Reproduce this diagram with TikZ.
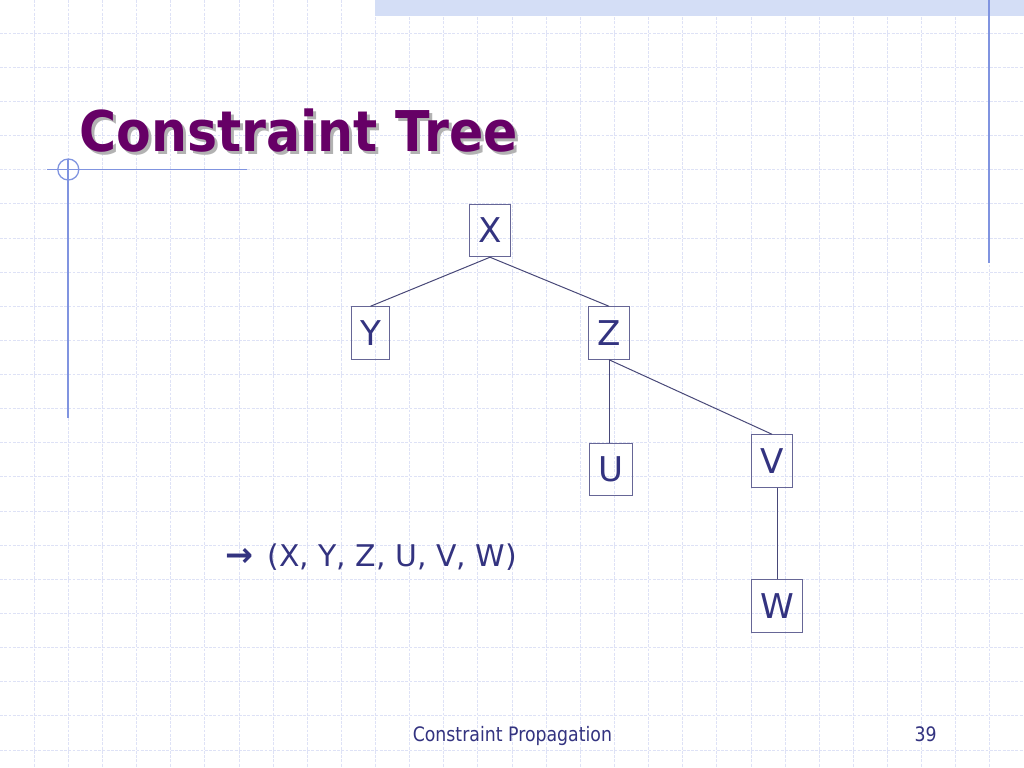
\documentclass[tikz,border=0pt]{standalone}
\usepackage{fontspec}
\setmainfont{DejaVu Sans}
\newfontfamily\titlefont{DejaVu Sans}[FakeStretch=0.9]
\newfontfamily\footerfont{DejaVu Sans}[FakeStretch=0.87]
\usepackage{tikz}
\usetikzlibrary{positioning}
\definecolor{slidetext}{RGB}{51,51,128}
\definecolor{titlepurple}{RGB}{102,0,102}
\definecolor{titleshadow}{RGB}{178,178,178}
\definecolor{gridblue}{RGB}{222,226,246}
\definecolor{rulerblue}{RGB}{128,148,224}
\definecolor{bandblue}{RGB}{212,222,246}
\definecolor{boxline}{RGB}{102,102,150}
\definecolor{edgeline}{RGB}{72,72,120}
\tikzset{gridline/.style={gridblue,line width=0.6pt,dash pattern=on 2pt off 1pt},
  ruler/.style={rulerblue,line width=0.9pt}}
\begin{document}
\begin{tikzpicture}[x=0.703125pt,y=-0.703125pt]%
            \useasboundingbox[fill=white] (0,0) rectangle (1024,768);
            %% background grid
            \foreach \k in {1,...,29} \draw[gridline] ({\k*34.133},0) -- ({\k*34.133},768);
            \foreach \k in {1,...,22} \draw[gridline] (0,{\k*34.133-1}) -- (1024,{\k*34.133-1});
            \fill[bandblue] (375,0) rectangle (1024,16);
            \draw[ruler,line width=1.3pt] (989,0) -- (989,263);
            \draw[ruler] (47,169.3) -- (247,169.3);
            \draw[ruler,line width=1.3pt] (67.7,159) -- (67.7,418);
            \draw[ruler] (68.3,169.5) circle (10.5);
            %% title
            \node[anchor=base west,inner sep=0,text=titleshadow,font=\titlefont\bfseries\fontsize{39.5}{47}\selectfont] (titleshadow) at (82,155) {Constraint Tree};
            \node[anchor=base west,inner sep=0,text=titlepurple,font=\titlefont\bfseries\fontsize{39.5}{47}\selectfont] (title) at (79,152) {Constraint Tree};
            %% tree
            \begin{scope}[inner xsep=6.3pt,inner ysep=0pt,minimum height=36.8pt,text=slidetext,font=\fontsize{24}{28}\selectfont]%
            \tikzstyle{every node}=[draw=boxline,line width=0.8pt] %%
            \node (x) at (490,230.5)  {X}; %%
            \node (y) at (370.5,333)  {Y}; %%
            \node (z) at (609,333)  {Z}; %%
            \node (u) at (610.7,469.5)  {U}; %%
            \node (v) at (772,461)  {V}; %%
            \node (w) at (777,606)  {W}; %%
            \end{scope}
            \begin{scope}[edgeline,line width=0.7pt]
            \draw (x.south)--(y.north); %%
            \draw (x.south)--(z.north); %%
            \draw (z.south)--(z.south |- u.north); %%
            \draw (z.south)--(v.north); %%
            \draw (w.north |- v.south)--(w.north); %%
            \end{scope}
            %% order and footer
            \node[anchor=base west,inner sep=0,text=slidetext,font=\fontsize{21}{25}\selectfont] (order) at (225,566.5) {{\bfseries\fontsize{23.5}{25}\selectfont →}\hspace{10pt}(X, Y, Z, U, V, W)};
            \node[anchor=base west,inner sep=0,text=slidetext,font=\footerfont\fontsize{14}{17}\selectfont] (footer) at (412.5,741.7) {Constraint Propagation};
            \node[anchor=base east,inner sep=0,text=slidetext,font=\footerfont\fontsize{14}{17}\selectfont] (page) at (937,741.7) {39};
        \end{tikzpicture}
\end{document}
